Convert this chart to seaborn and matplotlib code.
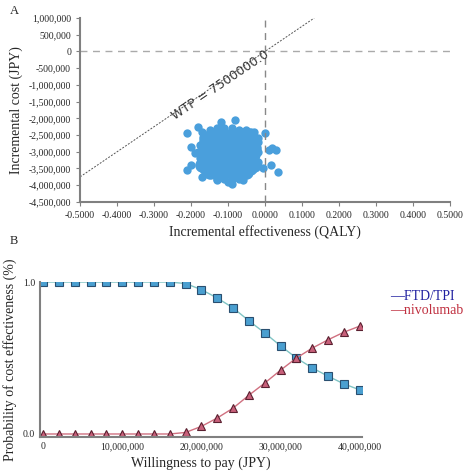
import numpy as np
import matplotlib
matplotlib.use("Agg")
import matplotlib.pyplot as plt
import seaborn as sns

sns.set_style("white")
plt.rcParams['font.family'] = ['Liberation Serif', 'DejaVu Serif']

# panel A: hand-read cloud of simulations (QALY, cost in millions JPY)
sim_qaly = [-0.17, -0.15, -0.13, -0.11, -0.09, -0.07, -0.05, -0.03,
            -0.16, -0.14, -0.12, -0.10, -0.08, -0.06, -0.04, -0.02,
            -0.175, -0.155, -0.135, -0.115, -0.095, -0.075, -0.055, -0.035, -0.02,
            -0.18, -0.16, -0.14, -0.12, -0.10, -0.08, -0.06, -0.04, -0.02,
            -0.175, -0.155, -0.135, -0.115, -0.095, -0.075, -0.055, -0.035, -0.02,
            -0.17, -0.15, -0.13, -0.11, -0.09, -0.07, -0.05, -0.03,
            -0.15, -0.13, -0.11, -0.09, -0.07, -0.05,
            -0.13, -0.11, -0.09, -0.07,
            -0.14, -0.12, -0.10, -0.08, -0.06, -0.04,
            -0.16, -0.14, -0.12, -0.10, -0.08, -0.06, -0.04, -0.03,
            -0.165, -0.145, -0.125, -0.105, -0.085, -0.065, -0.045, -0.025,
            -0.16, -0.14, -0.12, -0.10, -0.08, -0.06, -0.04,
            -0.21, -0.20, -0.19, -0.21, -0.20, -0.18, 0.01, 0.02, 0.03, 0.035,
            0.015, 0.0, -0.005, -0.10, -0.13, -0.17, -0.08, -0.12, -0.06, -0.09]
sim_cost = [-2.4, -2.35, -2.3, -2.3, -2.3, -2.35, -2.35, -2.4,
            -2.6, -2.6, -2.6, -2.6, -2.6, -2.6, -2.6, -2.6,
            -2.8, -2.8, -2.8, -2.8, -2.8, -2.8, -2.8, -2.8, -2.7,
            -3.0, -3.0, -3.0, -3.0, -3.0, -3.0, -3.0, -3.0, -3.0,
            -3.2, -3.2, -3.2, -3.2, -3.2, -3.2, -3.2, -3.2, -3.3,
            -3.4, -3.4, -3.4, -3.4, -3.4, -3.4, -3.4, -3.4,
            -3.6, -3.6, -3.6, -3.6, -3.6, -3.6,
            -3.8, -3.8, -3.8, -3.8,
            -2.5, -2.45, -2.45, -2.45, -2.5, -2.5,
            -2.7, -2.7, -2.7, -2.7, -2.7, -2.7, -2.7, -2.9,
            -3.1, -3.1, -3.1, -3.1, -3.1, -3.1, -3.1, -3.1,
            -3.5, -3.5, -3.5, -3.5, -3.5, -3.5, -3.5,
            -2.45, -2.85, -3.05, -3.55, -3.4, -2.25, -2.95, -2.9, -2.95, -3.6,
            -3.4, -2.45, -3.5, -3.9, -3.85, -3.75, -2.05, -2.1, -3.85, -3.95]
wtp = 7500000.0
wtp_x = [-0.5, 0.133]

# panel B: acceptability curve
wtp_grid = [0, 2e6, 4e6, 6e6, 8e6, 10e6, 12e6, 14e6, 16e6, 18e6, 20e6,
            22e6, 24e6, 26e6, 28e6, 30e6, 32e6, 34e6, 36e6, 38e6, 40e6]
p_ftd = [1.0, 1.0, 1.0, 1.0, 1.0, 1.0, 1.0, 1.0, 1.0, 0.99, 0.95,
         0.895, 0.83, 0.745, 0.665, 0.58, 0.5, 0.435, 0.38, 0.33, 0.29]
p_nivo = [1 - p for p in p_ftd]

fig = plt.figure(figsize=(4.74, 4.74), dpi=100)
grey = '#808080'

ax1 = fig.add_axes([0.169, 0.574, 0.78, 0.388])
ax1.scatter(sim_qaly, np.array(sim_cost) * 1e6, s=36, color='#4a9fdc', linewidths=0)
ax1.scatter([q for q, c in zip(sim_qaly, sim_cost) if -0.17 <= q <= -0.03 and -3.6 <= c <= -2.5],
            [c * 1e6 for q, c in zip(sim_qaly, sim_cost) if -0.17 <= q <= -0.03 and -3.6 <= c <= -2.5],
            s=110, color='#4a9fdc', linewidths=0)
ax1.plot(wtp_x, [wtp * x for x in wtp_x], color='#555555', ls='--', lw=0.7, dashes=(2, 1.5))
ax1.axhline(0, color='#aaaaaa', ls='--', lw=1, dashes=(5, 4))
ax1.axvline(0, color='#888888', ls='--', lw=1, dashes=(5, 4))
ax1.text(-0.12, -1.0e6, 'WTP = 7500000.0', rotation=34, fontsize=9, family='DejaVu Sans',
         ha='center', va='center', color='#333333')
ax1.set_xlim(-0.5, 0.5)
ax1.set_ylim(-4.5e6, 1.0e6)
xt = np.round(np.arange(-0.5, 0.51, 0.1), 4)
ax1.set_xticks(xt)
ax1.set_xticklabels([f'{abs(v) if v == 0 else v:.4f}' for v in xt])
ax1.set_yticks(np.arange(-4.5e6, 1.01e6, 5e5))
ax1.set_yticklabels([f'{int(round(v)):,}' for v in np.arange(-4.5e6, 1.01e6, 5e5)])
ax1.tick_params(labelsize=7, length=3, color=grey)
for s in ['top', 'right']:
    ax1.spines[s].set_visible(False)
for s in ['left', 'bottom']:
    ax1.spines[s].set_color(grey)
    ax1.spines[s].set_linewidth(1.5)
ax1.tick_params(axis='both', which='both', left=True, bottom=True)
ax1.set_xlabel('Incremental effectiveness (QALY)', fontsize=10)
ax1.set_ylabel('Incremental cost (JPY)', fontsize=10)
fig.text(0.02, 0.97, 'A', fontsize=9)

ax2 = fig.add_axes([0.084, 0.078, 0.68, 0.327])
sns.lineplot(x=wtp_grid, y=p_ftd, ax=ax2, color='#7fc4c4', lw=1, marker='s', markersize=6,
             markerfacecolor='#4a9fd0', markeredgecolor='#2a4f70', markeredgewidth=0.8)
sns.lineplot(x=wtp_grid, y=p_nivo, ax=ax2, color='#d07080', lw=1, marker='^', markersize=6,
             markerfacecolor='#c8607a', markeredgecolor='#5a2030', markeredgewidth=0.8)
ax2.set_xlim(-0.4e6, 40.3e6)
ax2.set_ylim(-0.02, 1.0)
ax2.set_xticks([0, 10e6, 20e6, 30e6, 40e6])
ax2.set_xticklabels(['0', '10,000,000', '20,000,000', '30,000,000', '40,000,000'])
ax2.set_yticks([0, 1])
ax2.set_yticklabels(['0.0', '1.0'])
ax2.tick_params(labelsize=7, length=0)
for s in ['top', 'right']:
    ax2.spines[s].set_visible(False)
for s in ['left', 'bottom']:
    ax2.spines[s].set_color(grey)
    ax2.spines[s].set_linewidth(1.5)
ax2.set_xlabel('Willingness to pay (JPY)', fontsize=10)
ax2.set_ylabel('Probability of cost effectiveness (%)', fontsize=10)
fig.text(0.02, 0.485, 'B', fontsize=9)
fig.text(0.822, 0.367, '\u2014FTD/TPI', fontsize=10, color='#2020a0')
fig.text(0.822, 0.338, '\u2014nivolumab', fontsize=10, color='#c03040')

fig.savefig('out.png', dpi=100)
